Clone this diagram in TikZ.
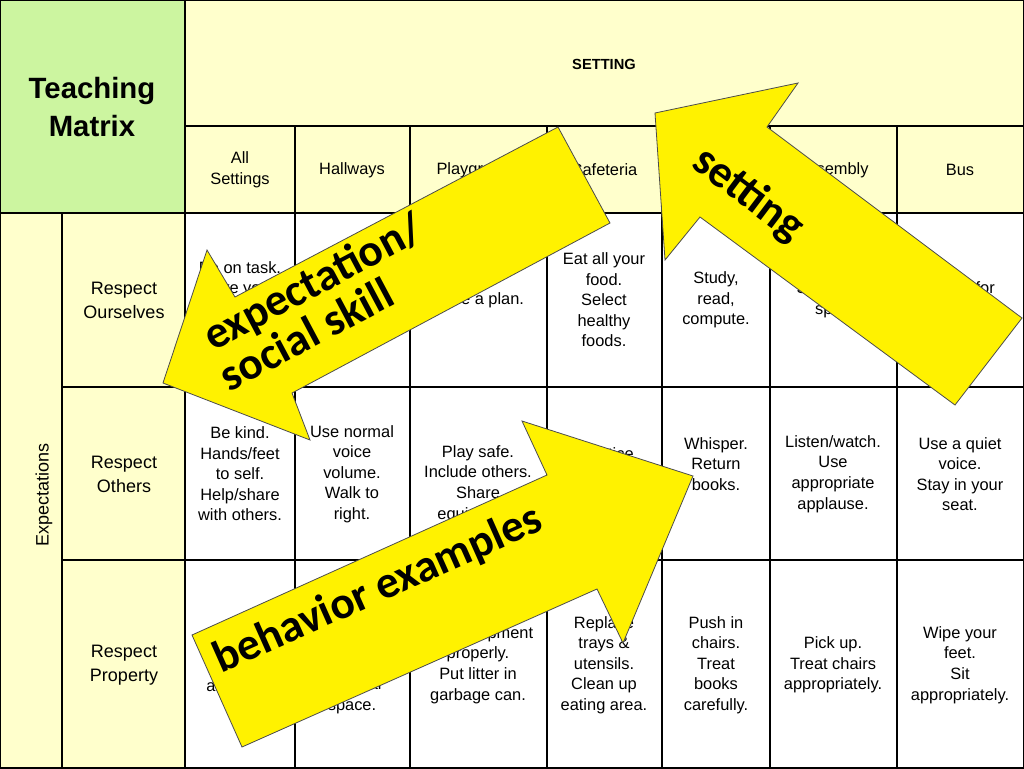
\documentclass[tikz,border=0pt]{standalone}
\usepackage{fontspec}
\setmainfont{Liberation Sans}
\newfontfamily\arrowfont{Carlito}
\begin{document}
\begin{tikzpicture}[x=0.75pt,y=-0.75pt,
  cell/.style={draw=black,line width=0.8pt},
  txt/.style={align=center,font=\fontsize{12.3}{15.4}\selectfont,inner sep=0pt},
  arr/.style={fill=yellow,draw=black!70,line width=0.6pt},
  atxt/.style={font=\arrowfont\bfseries\fontsize{34}{36}\selectfont,inner sep=0pt}]
\useasboundingbox (0,0) rectangle (1024,768);
\definecolor{lgreen}{HTML}{CCF5A0}
\definecolor{lyel}{HTML}{FFFFCC}
% backgrounds
\fill[lgreen] (0,0) rectangle (185,213);
\fill[lyel] (185,0) rectangle (1024,213);
\fill[lyel] (0,213) rectangle (185,768);
\fill[white] (185,213) rectangle (1024,768);
% grid
\draw[cell] (0,0) rectangle (1024,768);
\draw[cell] (185,0) -- (185,768);
\draw[cell] (185,126) -- (1024,126);
\draw[cell] (0,213) -- (1024,213);
\draw[cell] (62,213) -- (62,768);
\foreach \x in {295,410,547,662,770,897} \draw[cell] (\x,126) -- (\x,768);
\foreach \y in {387,560} \draw[cell] (62,\y) -- (1024,\y);
% headers
\node[txt,font=\bfseries\fontsize{22}{29}\selectfont] (tm) at (92,107) {Teaching\\Matrix};
\node[txt,font=\bfseries\fontsize{11}{12}\selectfont] (set) at (604,64) {SETTING};
\node[txt] (c1) at (240,170) {All\\Settings};
\node[txt] (c2) at (352,170) {Hallways};
\node[txt] (c3) at (478,170) {Playground};
\node[txt] (c4) at (604,170) {Cafeteria};
\node[txt] (c5) at (716,170) {Library};
\node[txt] (c6) at (833,170) {Assembly};
\node[txt] (c7) at (960,170) {Bus};
\node[txt,rotate=90,font=\fontsize{13.5}{15}\selectfont] (ex) at (44,495) {Expectations};
\node[txt,font=\fontsize{13.5}{18}\selectfont] (r1) at (124,300) {Respect\\Ourselves};
\node[txt,font=\fontsize{13.5}{18}\selectfont] (r2) at (124,474) {Respect\\Others};
\node[txt,font=\fontsize{13.5}{18}\selectfont] (r3) at (124,665) {Respect\\Property};
% row 1
\node[txt] (a11) at (240,300) {Be on task.\\Give your\\best effort.\\Be prepared.};
\node[txt] (a12) at (352,300) {Walk.};
\node[txt] (a13) at (478,300) {Have a plan.};
\node[txt] (a14) at (604,300) {Eat all your\\food.\\Select\\healthy\\foods.};
\node[txt] (a15) at (716,300) {Study,\\read,\\compute.};
\node[txt] (a16) at (833,300) {Sit in your\\spot.};
\node[txt] (a17) at (960,300) {Watch for\\your stop.};
% row 2
\node[txt] (a21) at (240,474) {Be kind.\\Hands/feet\\to self.\\Help/share\\with others.};
\node[txt] (a22) at (352,474) {Use normal\\voice\\volume.\\Walk to\\right.};
\node[txt] (a23) at (478,484) {Play safe.\\Include others.\\Share\\equipment.};
\node[txt] (a24) at (604,474) {Practice\\good\\manners.};
\node[txt] (a25) at (716,464) {Whisper.\\Return\\books.};
\node[txt] (a26) at (833,474) {Listen/watch.\\Use\\appropriate\\applause.};
\node[txt] (a27) at (960,474) {Use a quiet\\voice.\\Stay in your\\seat.};
% row 3
\node[txt] (a31) at (240,665) {Recycle.\\Clean up\\after self.};
\node[txt] (a32) at (352,675) {Pick up litter.\\Maintain\\physical\\space.};
\node[txt] (a33) at (478,665) {Use equipment\\properly.\\Put litter in\\garbage can.};
\node[txt] (a34) at (604,665) {Replace\\trays \&\\utensils.\\Clean up\\eating area.};
\node[txt] (a35) at (716,665) {Push in\\chairs.\\Treat\\books\\carefully.};
\node[txt] (a36) at (833,665) {Pick up.\\Treat chairs\\appropriately.};
\node[txt] (a37) at (960,665) {Wipe your\\feet.\\Sit\\appropriately.};
% arrows
\draw[arr] (163,383) -- (207,250) -- (235,297) -- (558,127) -- (610,223) -- (292,393) -- (310,440) -- cycle;
\draw[arr] (192,635) -- (547,475) -- (522,421) -- (693,476) -- (623,643) -- (597,589) -- (242,747) -- cycle;
\draw[arr] (655,113) -- (798,83) -- (767,127) -- (1022,318) -- (955,405) -- (700,217) -- (665,260) -- cycle;
\node[atxt,rotate=28] (l1) at (314,284) {expectation/};
\node[atxt,rotate=28] (l2) at (306,334) {social skill};
\node[atxt,rotate=24] (l3) at (378,590) {behavior examples};
\node[atxt,rotate=-37] (l4) at (748,195) {setting};
\end{tikzpicture}
\end{document}
